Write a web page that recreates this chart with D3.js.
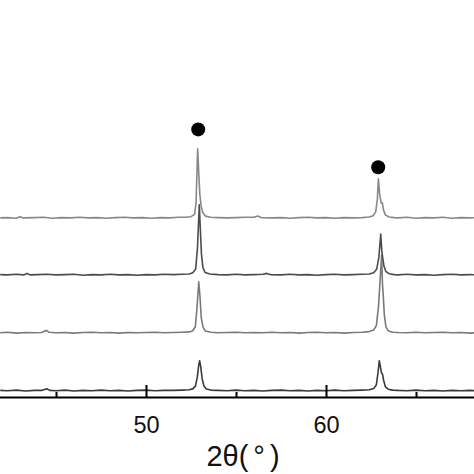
<!DOCTYPE html>
<html><head><meta charset="utf-8">
<script src="https://cdn.jsdelivr.net/npm/d3@7"></script>
<style>html,body{margin:0;padding:0;background:#fff;} svg{display:block;}</style>
</head><body>
<svg id="c" width="474" height="474"></svg>
<script>
// ---- data (2θ in degrees, intensity in a.u. relative to each trace's baseline) ----
const majorTicks = [50, 60];
const minorTicks = [45, 55, 65];
const xLabel = ["2θ(", "°", ")"];
const offsets = [2.1, 21.4, 40.7, 59.7]; // stacking offsets, bottom → top
const markerPeaks = [[52.9, 89.2], [62.9, 76.6]]; // ● marker positions (2θ, a.u.)

const traceBottom = [[41.9,0.1],[42.3,0],[42.8,0.2],[43.3,-0.1],[43.8,0.1],[44.2,0.1],[44.4,0.5],[44.5,0.6],[44.65,0.1],[45.0,0],[45.5,0.2],[46.0,-0.1],[46.5,0.1],[47.0,0],[47.5,0.2],[48.0,0],[48.5,0.1],[49.0,-0.1],[49.5,0.1],[50.0,0.2],[50.5,0],[51.0,0.1],[51.5,0.1],[52.0,0.2],[52.4,0.3],[52.6,0.6],[52.75,1.6],[52.85,4.5],[52.93,8.5],[52.98,10],[53.04,8],[53.12,4],[53.22,1.6],[53.35,0.6],[53.6,0.2],[54.0,0.1],[54.5,0],[55.0,0.2],[55.5,0],[56.0,0.1],[56.5,-0.1],[57.0,0.1],[57.5,0.2],[58.0,0],[58.5,0.1],[59.0,-0.1],[59.5,0.1],[60.0,0],[60.5,0.2],[61.0,0],[61.5,0.1],[62.0,0.2],[62.4,0.3],[62.65,0.7],[62.8,2],[62.9,6.5],[62.96,10],[63.02,8],[63.08,6],[63.14,5.5],[63.2,3.5],[63.3,1.3],[63.45,0.5],[63.7,0.2],[64.0,0.1],[64.5,0],[65.0,0.2],[65.5,0],[66.0,0.1],[66.5,-0.1],[67.0,0.1],[67.5,0],[68.0,0.1],[68.3,0]];

const traceThird = [[41.9,0],[42.3,0.2],[42.8,-0.1],[43.3,0.1],[43.8,0],[44.2,0.1],[44.38,0.6],[44.47,0.8],[44.6,0.2],[45.0,0],[45.5,0.1],[46.0,-0.1],[46.5,0.1],[47.0,0.2],[47.5,0],[48.0,0.1],[48.5,-0.1],[49.0,0.1],[49.5,0],[50.0,0.1],[50.5,0.2],[51.0,0],[51.5,0.1],[52.0,0.2],[52.4,0.3],[52.6,0.7],[52.74,2],[52.83,8],[52.93,17],[53.0,12],[53.07,5],[53.17,1.8],[53.3,0.6],[53.6,0.2],[54.0,0],[54.5,0.1],[55.0,0.2],[55.5,0],[56.0,0.1],[56.5,0],[57.0,0.2],[57.5,0],[58.0,0.1],[58.5,-0.1],[59.0,0.1],[59.5,0.2],[60.0,0],[60.5,0.1],[61.0,-0.1],[61.5,0.1],[62.0,0.2],[62.4,0.4],[62.65,0.9],[62.8,2.5],[62.92,9],[63.02,19],[63.09,25.8],[63.14,16],[63.18,12.4],[63.24,6],[63.33,2],[63.45,0.7],[63.7,0.2],[64.0,0.1],[64.5,0],[65.0,0.2],[65.5,0],[66.0,0.1],[66.5,0.2],[67.0,0],[67.5,0.1],[68.0,-0.1],[68.3,0]];

const traceSecond = [[41.9,0.1],[42.3,0],[42.8,0.2],[43.2,0],[43.4,0.5],[43.55,0],[44.0,0.1],[44.5,0.2],[45.0,0],[45.5,0.1],[46.0,0.2],[46.5,-0.1],[47.0,0.1],[47.5,0],[48.0,0.2],[48.5,0],[49.0,0.1],[49.5,-0.1],[50.0,0.1],[50.5,0],[51.0,0.2],[51.5,0.1],[52.0,0.2],[52.4,0.3],[52.6,0.7],[52.76,2],[52.86,9],[52.96,23.4],[53.02,15],[53.08,7],[53.16,2.5],[53.28,0.8],[53.55,0.3],[54.0,0.1],[54.5,0],[55.0,0.2],[55.5,0],[56.0,0.1],[56.5,0.2],[56.7,0.5],[56.9,0.1],[57.5,0],[58.0,0.2],[58.5,0],[59.0,0.1],[59.5,-0.1],[60.0,0.1],[60.5,0.2],[61.0,0],[61.5,0.1],[62.0,0.2],[62.4,0.3],[62.65,0.7],[62.82,2],[62.94,6],[63.04,13.6],[63.1,8],[63.15,5.7],[63.22,3],[63.32,1.2],[63.5,0.4],[63.8,0.1],[64.0,0],[64.5,0.2],[65.0,0],[65.5,0.1],[66.0,-0.1],[66.5,0.1],[67.0,0.2],[67.5,0],[68.0,0.1],[68.3,0]];

const traceTop = [[41.9,0],[42.3,0.1],[42.8,-0.1],[43.0,0.4],[43.2,0],[43.8,0.1],[44.3,0.2],[44.8,-0.1],[45.3,0.1],[45.8,0],[46.3,0.2],[46.8,0],[47.3,0.1],[47.8,-0.1],[48.3,0.1],[48.8,0.2],[49.3,0],[49.8,0.1],[50.3,-0.1],[50.8,0.1],[51.3,0],[51.8,0.2],[52.2,0.2],[52.5,0.4],[52.7,1.2],[52.78,5],[52.87,23],[52.93,15],[52.99,8],[53.06,4],[53.15,1.8],[53.3,0.6],[53.6,0.2],[54.0,0.1],[54.5,0],[55.0,0.1],[55.5,0.2],[56.0,0.2],[56.2,0.6],[56.4,0.1],[57.0,0],[57.5,0.1],[58.0,-0.1],[58.5,0.1],[59.0,0.2],[59.5,0],[60.0,0.1],[60.5,-0.1],[61.0,0.1],[61.5,0],[62.0,0.1],[62.4,0.3],[62.62,0.7],[62.76,2],[62.85,6],[62.91,13],[62.98,8],[63.06,5],[63.13,5],[63.2,2.5],[63.3,1],[63.5,0.3],[63.8,0.1],[64.0,0],[64.5,0.2],[65.0,-0.1],[65.5,0.1],[66.0,0],[66.5,0.2],[67.0,-0.1],[67.5,0.1],[68.0,0],[68.3,0.1]];

const traces = [traceBottom, traceThird, traceSecond, traceTop];
const traceColors = ["#3a3a3a", "#7a7a7a", "#4c4c4c", "#888888"];

// ---- drawing ----
const svg = d3.select("#c");
const x = d3.scaleLinear().domain([50, 60]).range([146, 326]);
const y = d3.scaleLinear().domain([0, 100]).range([397, 97]);

const line = d3.line().x(d => x(d[0])).y(d => y(d[1]));

traces.forEach((t, i) => {
  svg.append("path")
    .datum(t.map(d => [d[0], d[1] + offsets[i]]))
    .attr("fill", "none")
    .attr("stroke", traceColors[i])
    .attr("stroke-width", 1.6)
    .attr("stroke-linejoin", "round")
    .attr("d", line);
});

svg.selectAll("circle.mk").data(markerPeaks).join("circle")
  .attr("class", "mk")
  .attr("cx", d => x(d[0]))
  .attr("cy", d => y(d[1]))
  .attr("r", 7)
  .attr("fill", "#000");

// axis spanning the whole width
const xFull = x.copy().domain([x.invert(-2), x.invert(476)]).range([-2, 476]);

const minorAxis = d3.axisBottom(xFull).tickValues(minorTicks).tickSize(-5).tickSizeOuter(0).tickFormat("");
const majorAxis = d3.axisBottom(xFull).tickValues(majorTicks).tickSize(-12).tickSizeOuter(0).tickPadding(19).tickFormat(d3.format("d"));

const gMinor = svg.append("g").attr("transform", "translate(0,397)").call(minorAxis);
gMinor.select(".domain").remove();
gMinor.selectAll("line").attr("stroke", "#000").attr("stroke-width", 2);

const gMajor = svg.append("g").attr("transform", "translate(0,397)").call(majorAxis);
gMajor.select(".domain").attr("stroke", "#000").attr("stroke-width", 2.2);
gMajor.selectAll("line").attr("stroke", "#000").attr("stroke-width", 2);
gMajor.selectAll("text")
  .attr("font-family", "Liberation Sans, Arial, sans-serif")
  .attr("font-size", 23.5)
  .attr("fill", "#111");

const lab = svg.append("text")
  .attr("x", 243).attr("y", 466)
  .attr("text-anchor", "middle")
  .attr("font-family", "Liberation Sans, Arial, sans-serif")
  .attr("font-size", 29)
  .attr("fill", "#111");
lab.append("tspan").text(xLabel[0]);
lab.append("tspan").attr("dx", 5).text(xLabel[1]);
lab.append("tspan").attr("dx", 5).text(xLabel[2]);
</script>
</body></html>
